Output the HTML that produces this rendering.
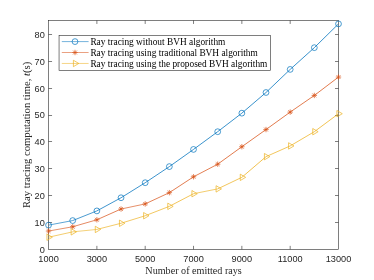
<!DOCTYPE html>
<html lang="en"><head><meta charset="utf-8"><title>Ray tracing computation time</title>
<style>html,body{margin:0;padding:0;background:#fff}svg{display:block}</style></head>
<body>
<svg width="374" height="280" viewBox="0 0 374 280">
<rect width="374" height="280" fill="#fff"/>
<g stroke="#262626" stroke-width="0.59" fill="none">
<rect x="48.55" y="20.45" width="289.95" height="228.90"/>
<path d="M96.88 249.35V245.85M96.88 20.45V23.95"/>
<path d="M145.20 249.35V245.85M145.20 20.45V23.95"/>
<path d="M193.52 249.35V245.85M193.52 20.45V23.95"/>
<path d="M241.85 249.35V245.85M241.85 20.45V23.95"/>
<path d="M290.18 249.35V245.85M290.18 20.45V23.95"/>
<path d="M48.55 222.50H52.05M338.50 222.50H335.00"/>
<path d="M48.55 195.50H52.05M338.50 195.50H335.00"/>
<path d="M48.55 168.50H52.05M338.50 168.50H335.00"/>
<path d="M48.55 141.50H52.05M338.50 141.50H335.00"/>
<path d="M48.55 115.50H52.05M338.50 115.50H335.00"/>
<path d="M48.55 88.50H52.05M338.50 88.50H335.00"/>
<path d="M48.55 61.50H52.05M338.50 61.50H335.00"/>
<path d="M48.55 34.50H52.05M338.50 34.50H335.00"/>
</g>
<g font-family="'Liberation Sans', sans-serif" font-size="9.9" fill="#262626">
<text transform="translate(48.55 261.7) scale(0.93 1)" text-anchor="middle">1000</text>
<text transform="translate(96.88 261.7) scale(0.93 1)" text-anchor="middle">3000</text>
<text transform="translate(145.20 261.7) scale(0.93 1)" text-anchor="middle">5000</text>
<text transform="translate(193.52 261.7) scale(0.93 1)" text-anchor="middle">7000</text>
<text transform="translate(241.85 261.7) scale(0.93 1)" text-anchor="middle">9000</text>
<text transform="translate(290.18 261.7) scale(0.93 1)" text-anchor="middle">11000</text>
<text transform="translate(338.50 261.7) scale(0.93 1)" text-anchor="middle">13000</text>
<text transform="translate(44.8 253.10) scale(0.93 1)" text-anchor="end">0</text>
<text transform="translate(44.8 225.75) scale(0.93 1)" text-anchor="end">10</text>
<text transform="translate(44.8 198.90) scale(0.93 1)" text-anchor="end">20</text>
<text transform="translate(44.8 172.05) scale(0.93 1)" text-anchor="end">30</text>
<text transform="translate(44.8 145.20) scale(0.93 1)" text-anchor="end">40</text>
<text transform="translate(44.8 118.35) scale(0.93 1)" text-anchor="end">50</text>
<text transform="translate(44.8 91.50) scale(0.93 1)" text-anchor="end">60</text>
<text transform="translate(44.8 64.65) scale(0.93 1)" text-anchor="end">70</text>
<text transform="translate(44.8 37.80) scale(0.93 1)" text-anchor="end">80</text>
</g>
<g font-family="'Liberation Serif', serif" font-size="10.2" fill="#262626">
<text x="193.6" y="274" text-anchor="middle" font-size="10.15">Number of emitted rays</text>
<text transform="translate(29.6 208.0) rotate(-90)" text-anchor="start" font-size="10.65">Ray tracing computation time, <tspan font-style="italic">t</tspan>(s)</text>
</g>
<g stroke="#0072BD" stroke-width="0.7" fill="none">
<path d="M48.55 225.14L72.71 220.57" stroke-width="0.64"/>
<path d="M72.71 220.57L96.88 210.90" stroke-width="0.71"/>
<path d="M96.88 210.90L121.04 197.75" stroke-width="0.75"/>
<path d="M121.04 197.75L145.20 182.71" stroke-width="0.76"/>
<path d="M145.20 182.71L169.36 166.60" stroke-width="0.76"/>
<path d="M169.36 166.60L193.52 149.42" stroke-width="0.77"/>
<path d="M193.52 149.42L217.69 131.70" stroke-width="0.77"/>
<path d="M217.69 131.70L241.85 113.17" stroke-width="0.77"/>
<path d="M241.85 113.17L266.01 92.50" stroke-width="0.78"/>
<path d="M266.01 92.50L290.18 69.41" stroke-width="0.78"/>
<path d="M290.18 69.41L314.34 47.66" stroke-width="0.78"/>
<path d="M314.34 47.66L338.50 23.89" stroke-width="0.78"/>
<circle cx="48.55" cy="225.14" r="2.9"/>
<circle cx="72.71" cy="220.57" r="2.9"/>
<circle cx="96.88" cy="210.90" r="2.9"/>
<circle cx="121.04" cy="197.75" r="2.9"/>
<circle cx="145.20" cy="182.71" r="2.9"/>
<circle cx="169.36" cy="166.60" r="2.9"/>
<circle cx="193.52" cy="149.42" r="2.9"/>
<circle cx="217.69" cy="131.70" r="2.9"/>
<circle cx="241.85" cy="113.17" r="2.9"/>
<circle cx="266.01" cy="92.50" r="2.9"/>
<circle cx="290.18" cy="69.41" r="2.9"/>
<circle cx="314.34" cy="47.66" r="2.9"/>
<circle cx="338.50" cy="23.89" r="2.9"/>
</g>
<g stroke="#D95319" stroke-width="0.7" fill="none">
<path d="M48.55 231.04L72.71 226.75" stroke-width="0.64"/>
<path d="M72.71 226.75L96.88 219.77" stroke-width="0.68"/>
<path d="M96.88 219.77L121.04 209.03" stroke-width="0.73"/>
<path d="M121.04 209.03L145.20 203.92" stroke-width="0.65"/>
<path d="M145.20 203.92L169.36 192.65" stroke-width="0.73"/>
<path d="M169.36 192.65L193.52 176.81" stroke-width="0.76"/>
<path d="M193.52 176.81L217.69 164.19" stroke-width="0.74"/>
<path d="M217.69 164.19L241.85 146.73" stroke-width="0.77"/>
<path d="M241.85 146.73L266.01 129.55" stroke-width="0.77"/>
<path d="M266.01 129.55L290.18 112.10" stroke-width="0.77"/>
<path d="M290.18 112.10L314.34 95.45" stroke-width="0.76"/>
<path d="M314.34 95.45L338.50 77.06" stroke-width="0.77"/>
<path d="M45.85 231.04H51.25M48.55 228.34V233.74M46.64 229.13L50.46 232.95M46.64 232.95L50.46 229.13"/>
<path d="M70.01 226.75H75.41M72.71 224.05V229.45M70.80 224.84L74.62 228.66M70.80 228.66L74.62 224.84"/>
<path d="M94.17 219.77H99.58M96.88 217.07V222.47M94.97 217.86L98.78 221.67M94.97 221.67L98.78 217.86"/>
<path d="M118.34 209.03H123.74M121.04 206.33V211.72M119.13 207.12L122.95 210.93M119.13 210.93L122.95 207.12"/>
<path d="M142.50 203.92H147.90M145.20 201.22V206.62M143.29 202.01L147.11 205.83M143.29 205.83L147.11 202.01"/>
<path d="M166.66 192.65H172.06M169.36 189.95V195.35M167.45 190.74L171.27 194.56M167.45 194.56L171.27 190.74"/>
<path d="M190.82 176.81H196.22M193.52 174.11V179.50M191.62 174.90L195.43 178.71M191.62 178.71L195.43 174.90"/>
<path d="M214.99 164.19H220.39M217.69 161.49V166.89M215.78 162.28L219.60 166.09M215.78 166.09L219.60 162.28"/>
<path d="M239.15 146.73H244.55M241.85 144.03V149.43M239.94 144.82L243.76 148.64M239.94 148.64L243.76 144.82"/>
<path d="M263.31 129.55H268.71M266.01 126.85V132.25M264.10 127.64L267.92 131.46M264.10 131.46L267.92 127.64"/>
<path d="M287.48 112.10H292.88M290.18 109.40V114.80M288.27 110.19L292.08 114.01M288.27 114.01L292.08 110.19"/>
<path d="M311.64 95.45H317.04M314.34 92.75V98.15M312.43 93.54L316.25 97.36M312.43 97.36L316.25 93.54"/>
<path d="M335.80 77.06H341.20M338.50 74.36V79.76M336.59 75.15L340.41 78.97M336.59 78.97L340.41 75.15"/>
</g>
<g stroke="#EDB120" stroke-width="0.7" fill="none">
<path d="M48.55 237.22L72.71 231.85" stroke-width="0.66"/>
<path d="M72.71 231.85L96.88 229.43" stroke-width="0.60"/>
<path d="M96.88 229.43L121.04 223.26" stroke-width="0.67"/>
<path d="M121.04 223.26L145.20 215.74" stroke-width="0.69"/>
<path d="M145.20 215.74L169.36 206.34" stroke-width="0.71"/>
<path d="M169.36 206.34L193.52 193.72" stroke-width="0.74"/>
<path d="M193.52 193.72L217.69 188.89" stroke-width="0.65"/>
<path d="M217.69 188.89L241.85 177.34" stroke-width="0.73"/>
<path d="M241.85 177.34L266.01 156.67" stroke-width="0.78"/>
<path d="M266.01 156.67L290.18 145.93" stroke-width="0.73"/>
<path d="M290.18 145.93L314.34 131.70" stroke-width="0.75"/>
<path d="M314.34 131.70L338.50 113.71" stroke-width="0.77"/>
<path d="M46.95 234.02L52.35 237.22L46.95 240.42Z"/>
<path d="M71.11 228.65L76.51 231.85L71.11 235.05Z"/>
<path d="M95.28 226.23L100.67 229.43L95.28 232.63Z"/>
<path d="M119.44 220.06L124.84 223.26L119.44 226.46Z"/>
<path d="M143.60 212.54L149.00 215.74L143.60 218.94Z"/>
<path d="M167.76 203.14L173.16 206.34L167.76 209.54Z"/>
<path d="M191.92 190.52L197.32 193.72L191.92 196.92Z"/>
<path d="M216.09 185.69L221.49 188.89L216.09 192.09Z"/>
<path d="M240.25 174.14L245.65 177.34L240.25 180.54Z"/>
<path d="M264.41 153.47L269.81 156.67L264.41 159.87Z"/>
<path d="M288.57 142.73L293.98 145.93L288.57 149.13Z"/>
<path d="M312.74 128.50L318.14 131.70L312.74 134.90Z"/>
<path d="M336.90 110.51L342.30 113.71L336.90 116.91Z"/>
</g>
<rect x="59.05" y="35.45" width="211.40" height="34.85" fill="#fff" stroke="#262626" stroke-width="0.59"/>
<g stroke="#0072BD" stroke-width="0.7" fill="none"><path d="M61.8 41.6H88.6" stroke-width="0.55"/><circle cx="75.00" cy="41.60" r="2.9"/></g>
<text x="90.4" y="44.75" font-family="'Liberation Serif', serif" font-size="9.36" fill="#000">Ray tracing without BVH algorithm</text>
<g stroke="#D95319" stroke-width="0.7" fill="none"><path d="M61.8 52.5H88.6" stroke-width="0.55"/><path d="M72.30 52.50H77.70M75.00 49.80V55.20M73.09 50.59L76.91 54.41M73.09 54.41L76.91 50.59"/></g>
<text x="90.4" y="55.65" font-family="'Liberation Serif', serif" font-size="9.36" fill="#000">Ray tracing using traditional BVH algorithm</text>
<g stroke="#EDB120" stroke-width="0.7" fill="none"><path d="M61.8 63.45H88.6" stroke-width="0.55"/><path d="M73.40 60.25L78.80 63.45L73.40 66.65Z"/></g>
<text x="90.4" y="66.60" font-family="'Liberation Serif', serif" font-size="9.36" fill="#000">Ray tracing using the proposed BVH algorithm</text>
</svg>
</body></html>
